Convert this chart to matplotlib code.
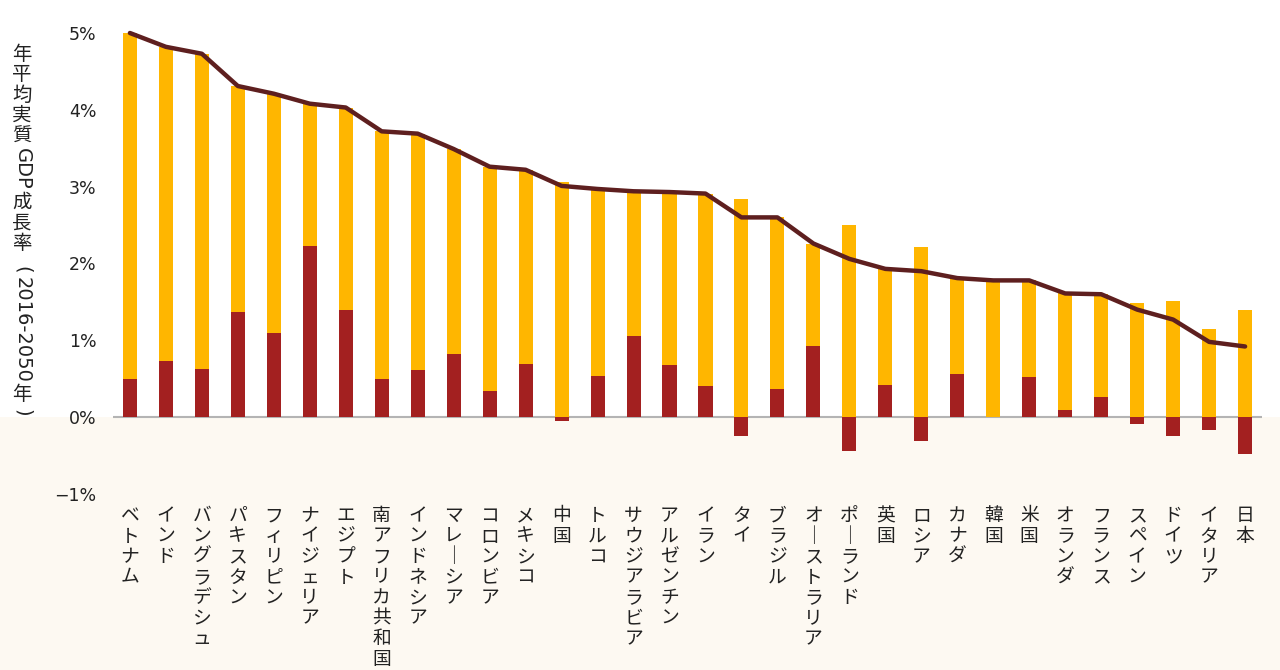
import numpy as np
import matplotlib
matplotlib.use("Agg")
import matplotlib.pyplot as plt
from matplotlib.patches import Rectangle

plt.rcParams['font.family'] = ['Noto Sans CJK JP', 'DejaVu Sans']

countries = ['ベトナム', 'インド', 'バングラデシュ', 'パキスタン', 'フィリピン', 'ナイジェリア',
             'エジプト', '南アフリカ共和国', 'インドネシア', 'マレーシア', 'コロンビア', 'メキシコ',
             '中国', 'トルコ', 'サウジアラビア', 'アルゼンチン', 'イラン', 'タイ', 'ブラジル',
             'オーストラリア', 'ポーランド', '英国', 'ロシア', 'カナダ', '韓国', '米国',
             'オランダ', 'フランス', 'スペイン', 'ドイツ', 'イタリア', '日本']

# population (working age) contribution, % per year  -> dark red
pop = [0.50, 0.73, 0.63, 1.37, 1.09, 2.23, 1.40, 0.50, 0.62, 0.82, 0.34, 0.69,
       -0.05, 0.54, 1.05, 0.68, 0.41, -0.24, 0.37, 0.93, -0.44, 0.42, -0.31, 0.56,
       0.00, 0.52, 0.09, 0.26, -0.09, -0.24, -0.17, -0.48]
# per-capita contribution, % per year -> orange
percap = [4.50, 4.09, 4.10, 2.94, 3.12, 1.85, 2.63, 3.22, 3.07, 2.67, 2.92, 2.53,
          3.06, 2.43, 1.89, 2.25, 2.50, 2.84, 2.23, 1.33, 2.50, 1.51, 2.21, 1.25,
          1.78, 1.26, 1.52, 1.34, 1.49, 1.51, 1.15, 1.40]

yticks = [-1, 0, 1, 2, 3, 4, 5]
ytick_labels = ['\u22121%', '0%', '1%', '2%', '3%', '4%', '5%']

c_orange = '#FFB600'
c_red = '#A32020'
c_line = '#5E1F1F'

pop = np.array(pop)
percap = np.array(percap)
total = pop + percap
x = np.arange(len(countries))

fig = plt.figure(figsize=(12.8, 6.7), dpi=100)
fig.patches.append(Rectangle((0, 0), 1, 1 - 417 / 670, transform=fig.transFigure,
                             facecolor='#FDF9F2', edgecolor='none', zorder=-10))
ax = fig.add_axes([113 / 1280, 1 - 494 / 670, 1149 / 1280, 461 / 670])
ax.patch.set_alpha(0)

ax.bar(x, percap, 0.39, bottom=np.maximum(pop, 0), color=c_orange, zorder=2)
ax.bar(x, pop, 0.39, color=c_red, zorder=2)
ax.axhline(0, color='#B4B4B4', lw=1.5, zorder=1)
ax.plot(x, total, color=c_line, lw=3.2, solid_capstyle='round', solid_joinstyle='round',
        zorder=3, clip_on=False)

ax.set_xlim(-0.47, len(countries) - 1 + 0.47)
ax.set_ylim(-1, 5)
ax.set_yticks(yticks)
ax.set_yticklabels(ytick_labels, family=['DejaVu Sans'], fontsize=12.5, color='#222222')
for s in ax.spines.values():
    s.set_visible(False)
ax.tick_params(length=0)
ax.tick_params(axis='y', pad=12)

# vertical (tategaki) category labels
def tate(s):
    return '\n'.join('｜' if ch == 'ー' else ch for ch in s)

ax.set_xticks(x)
ax.set_xticklabels([tate(c) for c in countries], fontsize=13.5, linespacing=0.97,
                   va='top', color='#222222')
ax.tick_params(axis='x', pad=8)

# vertical y-axis title: kanji upright, latin parts rotated
renderer = fig.canvas.get_renderer()
pieces = [('年平均実質', False), ('GDP', True), ('成長率', False), ('(', True),
          ('2016-2050', True), ('年', False), (')', True)]
gaps = {'(': 10, ')': 2}
cur = 44
xl = 22 / 1280
for txt, rot in pieces:
    if not rot:
        for ch in txt:
            fig.text(xl, 1 - (cur + 10) / 670, ch, ha='center', va='center',
                     fontsize=14, color='#222222')
            cur += 20.5
    else:
        cur += gaps.get(txt, 0)
        t = fig.text(xl, 1 - (cur + 2) / 670, txt, rotation=270, ha='center', va='top',
                     fontsize=14, color='#222222', family=['DejaVu Sans'])
        cur += t.get_window_extent(renderer).height + 4

fig.savefig('out.png', dpi=100)
